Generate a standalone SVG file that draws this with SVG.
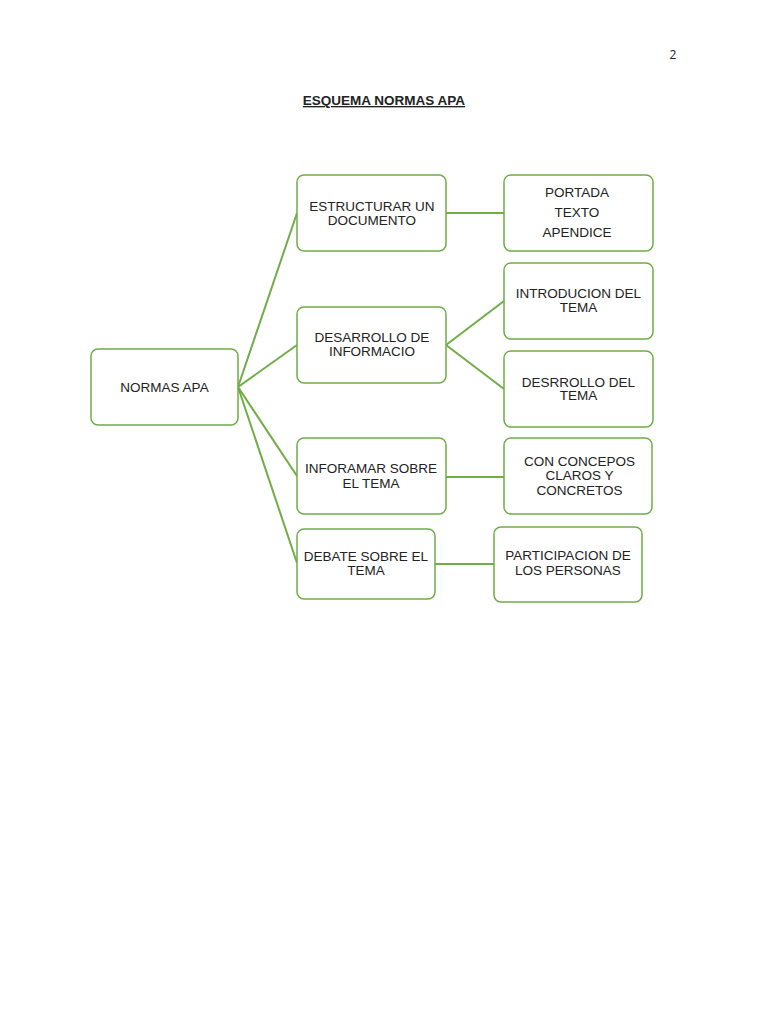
<svg xmlns="http://www.w3.org/2000/svg" width="768" height="1024" viewBox="0 0 768 1024">
<style>
.box{fill:#fff;stroke:#70AD47;stroke-width:1.5}
.t{font-family:"Liberation Sans",Arial,sans-serif;font-size:13.5px;fill:#222;text-anchor:middle}
.c{stroke:#70AD47;stroke-width:2;fill:none}
</style>
<rect width="768" height="1024" fill="#fff"/>
<text x="673" y="59" font-family="Open Sans, sans-serif" font-size="12" fill="#222" text-anchor="middle">2</text>
<text x="384" y="105" font-family="Liberation Sans, Arial, sans-serif" font-size="13.5" font-weight="bold" fill="#222" text-anchor="middle" text-decoration="underline">ESQUEMA NORMAS APA</text>
<g id="connectors">
<line class="c" x1="238" y1="387" x2="297" y2="213"/>
<line class="c" x1="238" y1="387" x2="297" y2="345"/>
<line class="c" x1="238" y1="387" x2="297" y2="476"/>
<line class="c" x1="238" y1="387" x2="297" y2="563"/>
<line class="c" x1="446" y1="213" x2="504" y2="213"/>
<line class="c" x1="446" y1="345" x2="504" y2="301"/>
<line class="c" x1="446" y1="345" x2="504" y2="389"/>
<line class="c" x1="446" y1="477" x2="504" y2="477"/>
<line class="c" x1="435" y1="564" x2="494" y2="564"/>
</g>
<g id="normas"><rect class="box" x="91" y="349" width="147" height="76" rx="7"/><text class="t" x="164.5" y="391.5">NORMAS APA</text></g>
<g id="estructurar"><rect class="box" x="297" y="175" width="149" height="76" rx="7"/><text class="t" x="372" y="210.5">ESTRUCTURAR UN</text><text class="t" x="372" y="224.5">DOCUMENTO</text></g>
<g id="desarrollo"><rect class="box" x="297" y="307" width="149" height="76" rx="7"/><text class="t" x="372" y="342">DESARROLLO DE</text><text class="t" x="372" y="356">INFORMACIO</text></g>
<g id="inforamar"><rect class="box" x="297" y="438" width="149" height="76" rx="7"/><text class="t" x="371" y="473">INFORAMAR SOBRE</text><text class="t" x="371" y="488">EL TEMA</text></g>
<g id="debate"><rect class="box" x="297" y="529" width="138" height="70" rx="7"/><text class="t" x="366" y="561">DEBATE SOBRE EL</text><text class="t" x="366" y="575">TEMA</text></g>
<g id="portada"><rect class="box" x="504" y="175" width="149" height="76" rx="7"/><text class="t" x="577" y="197">PORTADA</text><text class="t" x="577" y="217">TEXTO</text><text class="t" x="577" y="237">APENDICE</text></g>
<g id="introducion"><rect class="box" x="504" y="263" width="149" height="76" rx="7"/><text class="t" x="578.5" y="298">INTRODUCION DEL</text><text class="t" x="578.5" y="312">TEMA</text></g>
<g id="desrrollo"><rect class="box" x="504" y="351" width="149" height="76" rx="7"/><text class="t" x="578.5" y="387">DESRROLLO DEL</text><text class="t" x="578.5" y="400">TEMA</text></g>
<g id="concepos"><rect class="box" x="504" y="438" width="148" height="76" rx="7"/><text class="t" x="579.5" y="466">CON CONCEPOS</text><text class="t" x="579.5" y="480">CLAROS Y</text><text class="t" x="579.5" y="495">CONCRETOS</text></g>
<g id="participacion"><rect class="box" x="494" y="527" width="148" height="75" rx="7"/><text class="t" x="568" y="560">PARTICIPACION DE</text><text class="t" x="568" y="575">LOS PERSONAS</text></g>
</svg>
